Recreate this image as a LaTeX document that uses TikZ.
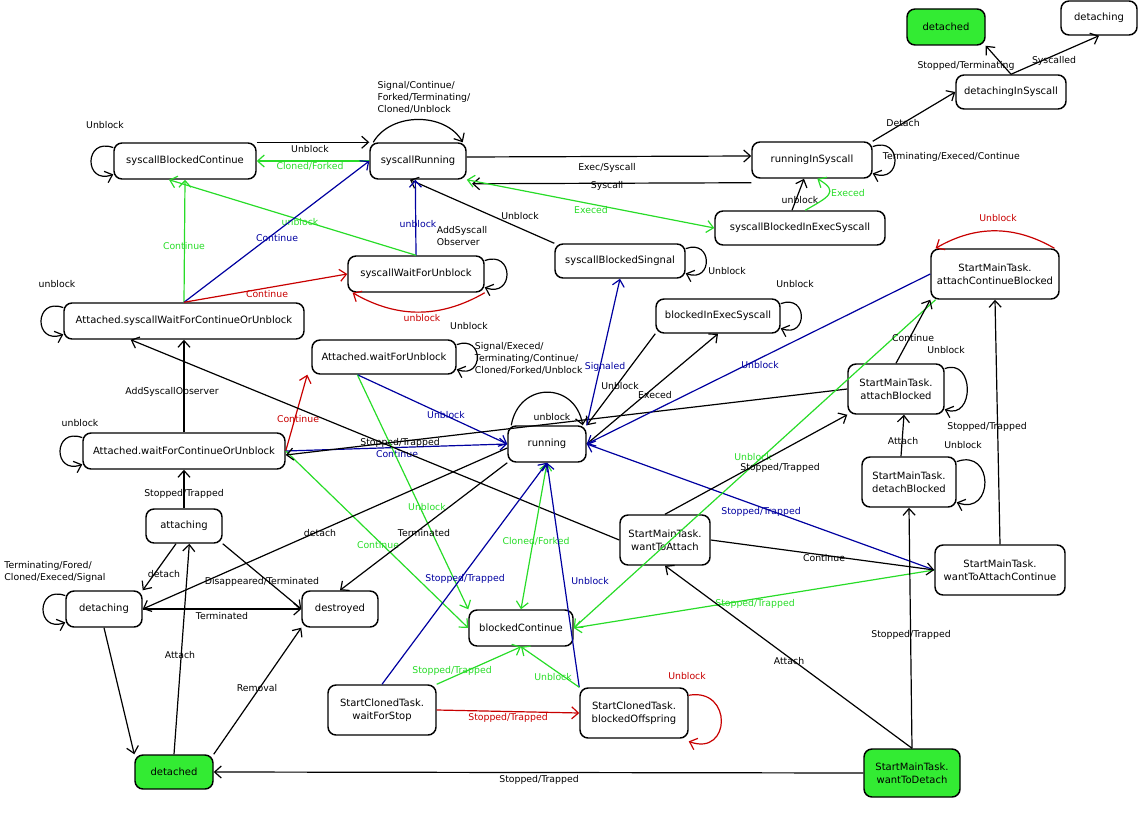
\documentclass[tikz,border=0pt]{standalone}
\usepackage{fontspec}
\setmainfont{DejaVu Sans}
\usetikzlibrary{arrows.meta}
\begin{document}
\begin{tikzpicture}[x=0.75pt,y=-0.75pt,
  st/.style={draw,rounded corners=6pt,line width=1.1pt,align=center,font=\fontsize{7.5}{10}\selectfont,inner sep=1pt},
  gst/.style={st,fill=green!90!black!80},
  e/.style={-{Straight Barb[length=5pt,width=9pt]},line width=0.9pt},
  g/.style={e,draw=grn},b/.style={e,draw=blu},r/.style={e,draw=rd},
  lb/.style={font=\fontsize{7}{9}\selectfont,inner sep=0.5pt,align=left},
  gl/.style={lb,text=grn},bl/.style={lb,text=blu},rl/.style={lb,text=rd}]
\definecolor{grn}{RGB}{40,220,40}\definecolor{blu}{RGB}{0,0,160}\definecolor{rd}{RGB}{200,0,0}
\useasboundingbox (0,0) rectangle (1146,838);
% nodes
\node[gst,minimum width=78*0.75pt,minimum height=36*0.75pt] (dt) at (946,27) {detached};
\node[st,minimum width=76*0.75pt,minimum height=34*0.75pt] (dgt) at (1099,18) {detaching};
\node[st,minimum width=110*0.75pt,minimum height=34*0.75pt] (dis) at (1011,92) {detachingInSyscall};
\node[st,minimum width=142*0.75pt,minimum height=36*0.75pt] (sbc) at (185,161) {syscallBlockedContinue};
\node[st,minimum width=96*0.75pt,minimum height=36*0.75pt] (sr) at (418,161) {syscallRunning};
\node[st,minimum width=120*0.75pt,minimum height=36*0.75pt] (ris) at (812,160) {runningInSyscall};
\node[st,minimum width=170*0.75pt,minimum height=34*0.75pt] (sbies) at (800,228) {syscallBlockedInExecSyscall};
\node[st,minimum width=130*0.75pt,minimum height=34*0.75pt] (sbs) at (620,261) {syscallBlockedSingnal};
\node[st,minimum width=136*0.75pt,minimum height=36*0.75pt] (swu) at (416,274) {syscallWaitForUnblock};
\node[st,minimum width=128*0.75pt,minimum height=50*0.75pt] (acb) at (995,274) {StartMainTask.\\attachContinueBlocked};
\node[st,minimum width=124*0.75pt,minimum height=34*0.75pt] (bies) at (718,316) {blockedInExecSyscall};
\node[st,minimum width=240*0.75pt,minimum height=36*0.75pt] (aswc) at (184,321) {Attached.syscallWaitForContinueOrUnblock};
\node[st,minimum width=144*0.75pt,minimum height=34*0.75pt] (awu) at (384,357) {Attached.waitForUnblock};
\node[st,minimum width=96*0.75pt,minimum height=50*0.75pt] (ab) at (896,389) {StartMainTask.\\attachBlocked};
\node[st,minimum width=78*0.75pt,minimum height=36*0.75pt] (run) at (547,444) {running};
\node[st,minimum width=202*0.75pt,minimum height=36*0.75pt] (awc) at (184,451) {Attached.waitForContinueOrUnblock};
\node[st,minimum width=94*0.75pt,minimum height=50*0.75pt] (db) at (909,482) {StartMainTask.\\detachBlocked};
\node[st,minimum width=76*0.75pt,minimum height=34*0.75pt] (att) at (184,526) {attaching};
\node[st,minimum width=90*0.75pt,minimum height=50*0.75pt] (wta) at (665,540) {StartMainTask.\\wantToAttach};
\node[st,minimum width=130*0.75pt,minimum height=50*0.75pt] (wtac) at (1000,570) {StartMainTask.\\wantToAttachContinue};
\node[st,minimum width=76*0.75pt,minimum height=36*0.75pt] (dg) at (104,609) {detaching};
\node[st,minimum width=76*0.75pt,minimum height=36*0.75pt] (des) at (340,609) {destroyed};
\node[st,minimum width=104*0.75pt,minimum height=36*0.75pt] (bc) at (521,628) {blockedContinue};
\node[st,minimum width=108*0.75pt,minimum height=50*0.75pt] (wfs) at (382,710) {StartClonedTask.\\waitForStop};
\node[st,minimum width=108*0.75pt,minimum height=50*0.75pt] (bo) at (634,713) {StartClonedTask.\\blockedOffspring};
\node[gst,minimum width=78*0.75pt,minimum height=34*0.75pt] (dd) at (174,772) {detached};
\node[gst,minimum width=96*0.75pt,minimum height=48*0.75pt] (wtd) at (912,773) {StartMainTask.\\wantToDetach};
% top area
\draw[e] ([xshift=-46pt]sbc.north east) |- ++(0,0) (sbc.north east) -- (sr.north west);
\draw[g] (sr.west) -- (sbc.east);
\node[lb] at (310,149) {Unblock};
\node[gl] at (310,166) {Cloned/Forked};
\draw[e] ([xshift=3pt]sr.north west) to[out=60,in=120] ([xshift=-3pt]sr.north east);
\node[lb] at (424,97) {Signal/Continue/\\Forked/Terminating/\\Cloned/Unblock};
\draw[e] ([yshift=-4pt]sbc.north west) to[out=160,in=200,looseness=3] ([yshift=4pt]sbc.south west);
\node[lb] at (105,125) {Unblock};
\draw[e] ([yshift=3pt]sr.east) -- ([yshift=3pt]ris.west);
\draw[e] ([yshift=-3pt]ris.south west) -- ([yshift=-3pt,xshift=4pt]sr.south east);
\node[lb] at (607,168) {Exec/Syscall};
\node[lb] at (607,186) {Syscall};
\draw[g,{Straight Barb[length=5pt,width=9pt]}-{Straight Barb[length=5pt,width=9pt]}] (sr.south east) -- (sbies.west);
\node[gl] at (591,210) {Execed};
\draw[e] ([yshift=-4pt]ris.north east) to[out=20,in=-20,looseness=3] ([yshift=4pt]ris.south east);
\node[lb,anchor=west] at (882,157) {Terminating/Execed/Continue};
\draw[e] (ris.north east) -- (dis.west);
\node[lb] at (903,123) {Detach};
\draw[e] (dis.north) -- (dt.south east);
\draw[e] (dis.north) -- (dgt.south);
\node[lb] at (966,66) {Stopped/Terminating};
\node[lb] at (1054,61) {Syscalled};
\draw[e] ([xshift=-6pt]sbies.north) -- ([xshift=-6pt]ris.south);
\node[lb] at (800,200) {unblock};
\draw[g] ([xshift=4pt]sbies.north) to[out=30,in=-30,looseness=2] ([xshift=4pt]ris.south);
\node[gl] at (848,193) {Execed};
\draw[e] (sbs.north west) -- ([xshift=-6pt]sr.south);
\node[lb] at (520,216) {Unblock};
\draw[e] ([yshift=-4pt]sbs.north east) to[out=20,in=-20,looseness=3] ([yshift=4pt]sbs.south east);
\node[lb] at (727,271) {Unblock};
\draw[b] (swu.north) -- ([xshift=-2pt]sr.south);
\node[bl] at (418,224) {unblock};
\draw[e] ([yshift=-4pt]swu.north east) to[out=20,in=-20,looseness=3] ([yshift=4pt]swu.south east);
\node[lb] at (462,236) {AddSyscall\\Observer};
\draw[g] (swu.north) -- ([xshift=-12pt]sbc.south);
\node[gl] at (300,222) {unblock};
\draw[g] (aswc.north) -- (sbc.south);
\node[gl] at (184,246) {Continue};
\draw[b] (aswc.north) -- (sr.west);
\node[bl] at (277,238) {Continue};
\draw[r] (aswc.north) -- (swu.west);
\node[rl] at (267,294) {Continue};
\draw[r] (swu.south east) to[out=-150,in=-30] ([xshift=4pt]swu.south west);
\node[rl] at (422,318) {unblock};
\draw[e] ([yshift=-4pt]aswc.north west) to[out=160,in=200,looseness=3] ([yshift=4pt]aswc.south west);
\node[lb] at (57,284) {unblock};
% middle
\draw[e] ([yshift=-4pt]awu.north east) to[out=20,in=-20,looseness=3] ([yshift=4pt]awu.south east);
\node[lb] at (469,326) {Unblock};
\draw[e] ([xshift=3pt]run.north west) to[out=80,in=100,looseness=1.6] ([xshift=-3pt]run.north east);
\node[lb,anchor=west] at (474,358) {Signal/Execed/\\Terminating/Continue/\\Cloned/Forked/Unblock};
\node[lb] at (552,417) {unblock};
\draw[e] (awc.north) -- (aswc.south);
\node[lb] at (172,392) {AddSyscallObserver};
\draw[e] ([yshift=-4pt]awc.north west) to[out=160,in=200,looseness=3] ([yshift=4pt]awc.south west);
\node[lb] at (80,423) {unblock};
\draw[r] (awc.east) -- ([xshift=-3pt]awu.south west);
\node[rl] at (298,419) {Continue};
\draw[b] (awc.east) -- (run.west);
\node[lb] at (400,443) {Stopped/Trapped};
\node[bl] at (397,454) {Continue};
\draw[b] ([xshift=-20pt]awu.south) -- (run.west);
\node[bl] at (446,415) {Unblock};
\draw[g] ([xshift=-20pt]awu.south) -- (bc.north west);
\node[gl] at (427,507) {Unblock};
\draw[g] (awc.east) -- (bc.west);
\node[gl] at (378,545) {Continue};
\draw[e] (ab.west) -- ([yshift=-3pt]awc.east);
\node[lb] at (655,395) {Execed};
\draw[e] (wta.west) -- ([xshift=-40pt]aswc.south);
\draw[e] ([yshift=-3pt]run.west) -- (dg.east);
\node[lb] at (320,533) {detach};
\draw[e] (run.south west) -- (des.north);
\node[lb] at (424,533) {Terminated};
\draw[g,{Straight Barb[length=5pt,width=9pt]}-{Straight Barb[length=5pt,width=9pt]}] (run.south) -- (bc.north);
\node[gl] at (536,541) {Cloned/Forked};
\draw[b] (wfs.north) -- (run.south);
\node[bl] at (465,579) {Stopped/Trapped};
\draw[b] (bo.north west) -- (run.south);
\node[bl] at (590,581) {Unblock};
\draw[e] (bies.south west) -- (run.north east);
\node[lb] at (620,386) {Unblock};
\draw[e] (run.east) -- (bies.south);
\draw[e] ([yshift=-4pt]bies.north east) to[out=20,in=-20,looseness=3] ([yshift=4pt]bies.south east);
\node[lb] at (795,284) {Unblock};
\draw[b] (run.north east) -- (sbs.south);
\node[bl] at (605,367) {Signaled};
\draw[b] (acb.west) -- (run.east);
\node[bl] at (760,365) {Unblock};
\draw[b] (wtac.west) -- (run.east);
\node[bl] at (761,512) {Stopped/Trapped};
\draw[g] ([xshift=4pt]acb.south west) -- (bc.east);
\node[gl] at (753,457) {Unblock};
\draw[g] (wtac.west) -- (bc.east);
\node[gl] at (755,604) {Stopped/Trapped};
\draw[e] (wta.north) -- (ab.south west);
\node[lb] at (780,468) {Stopped/Trapped};
\draw[e] (wta.east) -- (wtac.west);
\node[lb] at (824,558) {Continue};
\draw[e] ([xshift=-6pt]db.north) -- ([xshift=6pt]ab.south);
\node[lb] at (903,441) {Attach};
\draw[e] (ab.north) -- (acb.south west);
\node[lb] at (913,338) {Continue};
\draw[e] ([yshift=-4pt]ab.north east) to[out=20,in=-20,looseness=2] ([yshift=4pt]ab.south east);
\node[lb] at (946,350) {Unblock};
\node[lb] at (987,427) {Stopped/Trapped};
\draw[e] ([yshift=-4pt]db.north east) to[out=20,in=-20,looseness=2.5] ([yshift=4pt]db.south east);
\node[lb] at (963,445) {Unblock};
\draw[r] ([xshift=-4pt]acb.north east) to[out=150,in=30] ([xshift=4pt]acb.north west);
\node[rl] at (998,218) {Unblock};
\draw[e] (wtac.north) -- (acb.south);
\draw[e] (wtd.north) -- (db.south);
\node[lb] at (911,635) {Stopped/Trapped};
\draw[e] (wtd.north) -- (wta.south);
\node[lb] at (789,661) {Attach};
\draw[e] (wtd.west) -- (dd.east);
\node[lb] at (539,780) {Stopped/Trapped};
% left bottom
\draw[e] (att.north) -- (awc.south);
\node[lb] at (184,494) {Stopped/Trapped};
\draw[e] (att.south east) -- (des.west);
\node[lb] at (262,582) {Disappeared/Terminated};
\draw[e] ([xshift=-6pt]att.south) -- (dg.north east);
\node[lb] at (164,574) {detach};
\draw[e] (dd.north) -- ([xshift=4pt]att.south);
\node[lb] at (180,655) {Attach};
\draw[e] (dg.east) -- (des.west);
\node[lb] at (222,616) {Terminated};
\draw[e] (dg.south) -- (dd.north west);
\draw[e] ([yshift=-4pt]dg.north west) to[out=160,in=200,looseness=3] ([yshift=4pt]dg.south west);
\node[lb] at (55,572) {Terminating/Fored/\\Cloned/Execed/Signal};
\draw[e] (dd.north east) -- (des.south west);
\node[lb] at (257,688) {Removal};
\draw[g] (wfs.north east) -- (bc.south);
\node[gl] at (452,671) {Stopped/Trapped};
\draw[r] (wfs.east) -- (bo.west);
\node[rl] at (508,718) {Stopped/Trapped};
\draw[g] (bo.north west) -- (bc.south);
\node[gl] at (553,677) {Unblock};
\draw[r] ([yshift=-6pt]bo.north east) to[out=10,in=-20,looseness=2.5] ([yshift=-2pt]bo.south east);
\node[rl] at (687,676) {Unblock};
\end{tikzpicture}
\end{document}
